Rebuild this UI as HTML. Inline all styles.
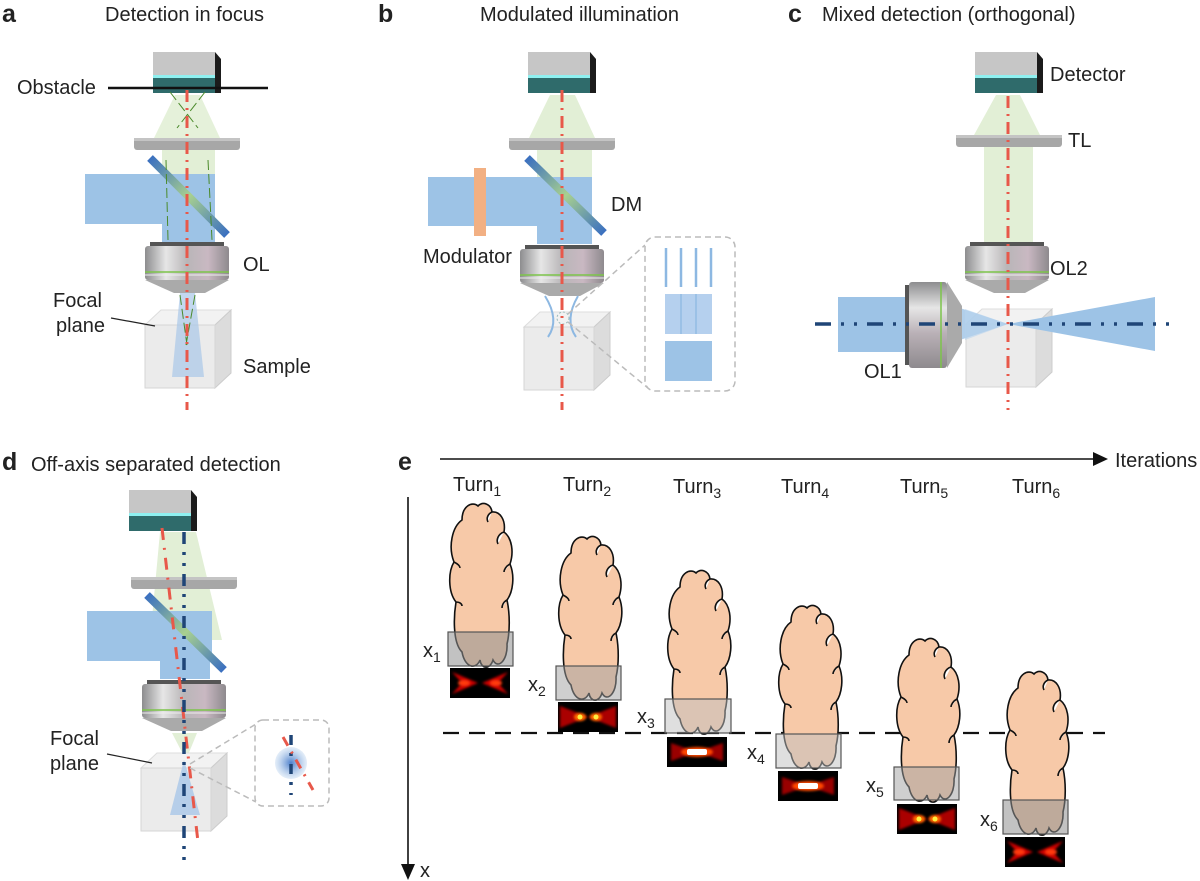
<!DOCTYPE html>
<html><head><meta charset="utf-8"><style>
html,body{margin:0;padding:0;background:#fff;}
svg{display:block;}
text{font-family:"Liberation Sans",Arial,sans-serif;fill:#222;}
</style></head><body>
<svg width="1200" height="881" viewBox="0 0 1200 881" xmlns="http://www.w3.org/2000/svg">
<defs>
 <linearGradient id="obj" x1="0" x2="1" y1="0" y2="0">
  <stop offset="0" stop-color="#8d8d8f"/><stop offset="0.25" stop-color="#e6e6e6"/><stop offset="0.5" stop-color="#b9b6b8"/><stop offset="0.75" stop-color="#c9b8c2"/><stop offset="1" stop-color="#8e8a8e"/>
 </linearGradient>
 <linearGradient id="objv" x1="0" x2="0" y1="0" y2="1">
  <stop offset="0" stop-color="#8d8d8f"/><stop offset="0.3" stop-color="#e6e6e6"/><stop offset="0.6" stop-color="#b9b0b6"/><stop offset="1" stop-color="#8e8a8e"/>
 </linearGradient>
 <linearGradient id="dm" x1="0" x2="1" y1="0" y2="1">
  <stop offset="0" stop-color="#3a6fc0"/><stop offset="0.5" stop-color="#a8d08f"/><stop offset="1" stop-color="#3a6fc0"/>
 </linearGradient>
 <filter id="bl1" x="-50%" y="-50%" width="200%" height="200%"><feGaussianBlur stdDeviation="1.2"/></filter>
 <radialGradient id="spot"><stop offset="0" stop-color="#1f5fbf"/><stop offset="1" stop-color="#a9c8ea" stop-opacity="0.4"/></radialGradient>

 <g id="det">
  <rect x="-34" y="0" width="62" height="23" fill="#c6c6c6"/>
  <rect x="-34" y="23" width="62" height="3" fill="#8ff0f0"/>
  <rect x="-34" y="26" width="62" height="15" fill="#2f6b6b"/>
  <polygon points="28,0 34,7 34,41 28,41" fill="#1b1b1b"/>
 </g>
 <g id="tl">
  <rect x="-53" y="0" width="106" height="12" rx="3" fill="#a7a7a7"/>
  <rect x="-53" y="0" width="106" height="3" fill="#c4c4c4"/>
 </g>
 <g id="obj1">
  <rect x="-37" y="0" width="74" height="7" fill="#555"/>
  <rect x="-42" y="4" width="84" height="34" rx="3" fill="url(#obj)"/>
  <line x1="-42" y1="30" x2="42" y2="30" stroke="#7cc44a" stroke-width="1.5"/>
  <line x1="-42" y1="33" x2="42" y2="33" stroke="#eee" stroke-width="1"/>
  <polygon points="-42,38 42,38 18,51 -13,51" fill="#aaa"/>
 </g>
 <g id="cube">
  <polygon points="0,15 16,0 86,0 70,15" fill="#f2f2f2" stroke="#ddd"/>
  <polygon points="70,15 86,0 86,63 70,78" fill="#dcdcdc" stroke="#ccc"/>
  <rect x="0" y="15" width="70" height="63" fill="#ebebeb" stroke="#d6d6d6"/>
 </g>
 <path id="brain" d="M14,150 C4,140 6,112 8,100 C0,90 0,70 6,60 C0,45 4,25 14,18 C14,4 24,-1 30,4 C35,-1 43,2 44,10 C52,9 58,18 56,30 C64,36 66,50 62,62 C67,74 65,90 59,98 C62,112 62,130 59,142 C60,158 50,168 45,158 C42,168 33,167 32,158 C28,168 17,166 14,150 Z M44,10 C40,12 38,16 40,20 M56,30 C50,32 48,38 50,42 M6,60 C10,62 12,64 12,66 M62,62 C58,64 56,68 56,70 M8,100 C12,100 14,102 14,104 M59,98 C55,100 54,104 54,106" fill="#f7c9a8" stroke="#111" stroke-width="1.6"/>
 <g id="psfA">
  <rect width="60" height="30" fill="#000"/>
  <polygon points="2,4 28,15 2,26 12,15" fill="#c00" filter="url(#bl1)"/>
  <polygon points="58,4 32,15 58,26 48,15" fill="#c00" filter="url(#bl1)"/>
  <ellipse cx="14" cy="15" rx="6" ry="3" fill="#ff3a10" filter="url(#bl1)"/>
  <ellipse cx="46" cy="15" rx="6" ry="3" fill="#ff3a10" filter="url(#bl1)"/>
 </g>
 <g id="psfB">
  <rect width="60" height="30" fill="#000"/>
  <polygon points="2,4 30,15 2,26" fill="#a00" filter="url(#bl1)"/>
  <polygon points="58,4 30,15 58,26" fill="#a00" filter="url(#bl1)"/>
  <ellipse cx="22" cy="15" rx="6" ry="4" fill="#ff6a00" filter="url(#bl1)"/>
  <ellipse cx="38" cy="15" rx="6" ry="4" fill="#ff6a00" filter="url(#bl1)"/>
  <circle cx="22" cy="15" r="2.5" fill="#ffee40"/>
  <circle cx="38" cy="15" r="2.5" fill="#ffee40"/>
 </g>
 <g id="psfC">
  <rect width="60" height="30" fill="#000"/>
  <polygon points="4,6 30,15 4,24" fill="#900" filter="url(#bl1)"/>
  <polygon points="56,6 30,15 56,24" fill="#900" filter="url(#bl1)"/>
  <ellipse cx="30" cy="15" rx="16" ry="5" fill="#ff4a00" filter="url(#bl1)"/>
  <rect x="20" y="12" width="20" height="6" rx="2" fill="#fff"/>
 </g>
</defs>

<!-- ===== Panel a ===== -->
<text x="2" y="22" font-size="25" font-weight="bold">a</text>
<text x="105" y="21" font-size="20">Detection in focus</text>
<g>
 <polygon points="175,95 200,95 220,138 154,138" fill="#e2efd6" opacity="0.9"/>
 <rect x="162" y="150" width="53" height="90" fill="#e2efd6"/>
 <rect x="85" y="174" width="130" height="50" fill="#9dc3e6"/>
 <rect x="162" y="224" width="53" height="20" fill="#9dc3e6"/>
 <use href="#det" x="187" y="52"/>
 <line x1="108" y1="88" x2="268" y2="88" stroke="#111" stroke-width="2.5"/>
 <use href="#tl" x="187" y="138"/>
 <line x1="150" y1="158" x2="227" y2="235" stroke="url(#dm)" stroke-width="8"/>
 <use href="#obj1" x="187" y="242"/>
 <use href="#cube" x="145" y="310"/>
 <polygon points="180,293 195,293 204,377 172,377" fill="#a9c7e8" opacity="0.7"/>
 <g stroke="#4a8a2a" stroke-width="1" fill="none" stroke-dasharray="10,4">
  <path d="M170,92 L198,128 M205,92 L177,128 M166,160 L168,240 M208,160 L212,240 M180,295 L187,345 M195,295 L186,345"/>
 </g>
 <line x1="187" y1="90" x2="187" y2="410" stroke="#e8584a" stroke-width="3" stroke-dasharray="12,6,2,6"/>
 <text x="243" y="271" font-size="20">OL</text>
 <text x="17" y="94" font-size="20">Obstacle</text>
 <text x="53" y="307" font-size="20">Focal</text>
 <text x="56" y="332" font-size="20">plane</text>
 <line x1="111" y1="318" x2="155" y2="326" stroke="#222" stroke-width="1.2"/>
 <text x="243" y="373" font-size="20">Sample</text>
</g>

<!-- ===== Panel b ===== -->
<text x="378" y="22" font-size="25" font-weight="bold">b</text>
<text x="480" y="21" font-size="20">Modulated illumination</text>
<g>
 <polygon points="550,95 575,95 595,138 529,138" fill="#e2efd6"/>
 <rect x="537" y="150" width="55" height="90" fill="#e2efd6"/>
 <rect x="428" y="177" width="164" height="49" fill="#9dc3e6"/>
 <rect x="537" y="226" width="55" height="18" fill="#9dc3e6"/>
 <rect x="474" y="168" width="12" height="68" fill="#f2b083"/>
 <use href="#det" x="562" y="52"/>
 <use href="#tl" x="562" y="138"/>
 <line x1="527" y1="158" x2="604" y2="233" stroke="url(#dm)" stroke-width="8"/>
 <use href="#obj1" x="562" y="245"/>
 <use href="#cube" x="524" y="312"/>
 <path d="M545,296 Q560,320 548,337 M578,296 Q564,320 576,337" stroke="#8db8e2" stroke-width="2" fill="none"/>
 <circle cx="563" cy="318" r="6" fill="none" stroke="#9bb" stroke-width="1" stroke-dasharray="2,2"/>
 <line x1="562" y1="90" x2="562" y2="410" stroke="#e8584a" stroke-width="3" stroke-dasharray="12,6,2,6"/>
 <line x1="568" y1="314" x2="645" y2="245" stroke="#bbb" stroke-width="1.5" stroke-dasharray="6,4"/>
 <line x1="568" y1="322" x2="648" y2="388" stroke="#bbb" stroke-width="1.5" stroke-dasharray="6,4"/>
 <rect x="645" y="237" width="90" height="154" rx="10" fill="#fff" stroke="#bbb" stroke-width="1.5" stroke-dasharray="6,4"/>
 <g stroke="#8db8e2" stroke-width="2.5"><line x1="666" y1="248" x2="666" y2="287"/><line x1="681" y1="248" x2="681" y2="287"/><line x1="696" y1="248" x2="696" y2="287"/><line x1="711" y1="248" x2="711" y2="287"/></g>
 <rect x="665" y="294" width="47" height="40" fill="#b5d0ee"/>
 <g stroke="#9bc1e6" stroke-width="2"><line x1="681" y1="294" x2="681" y2="334"/><line x1="696" y1="294" x2="696" y2="334"/></g>
 <rect x="665" y="341" width="47" height="40" fill="#9dc3e6"/>
 <text x="611" y="211" font-size="20">DM</text>
 <text x="423" y="263" font-size="20">Modulator</text>
</g>

<!-- ===== Panel c ===== -->
<text x="788" y="22" font-size="25" font-weight="bold">c</text>
<text x="822" y="21" font-size="20">Mixed detection (orthogonal)</text>
<g>
 <polygon points="996,95 1020,95 1040,135 974,135" fill="#e2efd6"/>
 <rect x="984" y="147" width="49" height="97" fill="#e2efd6"/>
 <use href="#det" x="1009" y="52"/>
 <use href="#tl" x="1009" y="135"/>
 <use href="#obj1" x="1007" y="242"/>
 <use href="#cube" x="966" y="309"/>
 <rect x="838" y="297" width="70" height="55" fill="#9dc3e6"/>
 <polygon points="960,308 1008,324 960,340" fill="#9dc3e6" opacity="0.8"/>
 <polygon points="1008,324 1155,297 1155,351" fill="#9dc3e6"/>
 <polygon points="965,309 1008,324 965,340" fill="#b8d3ee" opacity="0.6"/>
 <g>
  <rect x="905" y="285" width="6" height="80" fill="#555"/>
  <rect x="909" y="282" width="38" height="86" rx="3" fill="url(#objv)"/>
  <line x1="941" y1="282" x2="941" y2="368" stroke="#7cc44a" stroke-width="1.5"/>
  <polygon points="947,282 947,368 962,343 962,306" fill="#aaa"/>
 </g>
 <line x1="1008" y1="96" x2="1008" y2="410" stroke="#e8584a" stroke-width="3" stroke-dasharray="12,6,2,6"/>
 <line x1="815" y1="324" x2="1170" y2="324" stroke="#1f4577" stroke-width="3.5" stroke-dasharray="16,10,3,10,3,10"/>
 <text x="1050" y="81" font-size="20">Detector</text>
 <text x="1068" y="147" font-size="20">TL</text>
 <text x="1050" y="275" font-size="20">OL2</text>
 <text x="864" y="378" font-size="20">OL1</text>
</g>

<!-- ===== Panel d ===== -->
<text x="2" y="470" font-size="25" font-weight="bold">d</text>
<text x="31" y="471" font-size="20">Off-axis separated detection</text>
<g>
 <polygon points="160,532 196,532 222,640 150,640" fill="#e2efd6"/>
 <rect x="87" y="611" width="125" height="50" fill="#9dc3e6"/>
 <rect x="160" y="661" width="50" height="18" fill="#9dc3e6"/>
 <use href="#det" x="163" y="490"/>
 <use href="#tl" x="184" y="577"/>
 <line x1="147" y1="595" x2="224" y2="670" stroke="url(#dm)" stroke-width="8"/>
 <use href="#obj1" x="184" y="680"/>
 <polygon points="172,733 197,733 186,760" fill="#e2efd6"/>
 <use href="#cube" x="141" y="753"/>
 <polygon points="184,760 170,815 200,815" fill="#a9c7e8" opacity="0.8"/>
 <line x1="162" y1="528" x2="198" y2="842" stroke="#e8584a" stroke-width="3" stroke-dasharray="12,8,2,8"/>
 <line x1="184" y1="532" x2="184" y2="868" stroke="#1f4577" stroke-width="3.5" stroke-dasharray="12,8,3,8,3,8"/>
 <line x1="190" y1="764" x2="256" y2="724" stroke="#bbb" stroke-width="1.5" stroke-dasharray="6,4"/>
 <line x1="190" y1="768" x2="256" y2="802" stroke="#bbb" stroke-width="1.5" stroke-dasharray="6,4"/>
 <rect x="255" y="720" width="74" height="86" rx="8" fill="#fff" stroke="#bbb" stroke-width="1.5" stroke-dasharray="6,4"/>
 <circle cx="291" cy="763" r="16" fill="url(#spot)" opacity="0.8"/>
 <line x1="291" y1="735" x2="291" y2="795" stroke="#1f4577" stroke-width="3.5" stroke-dasharray="10,8,3,8"/>
 <line x1="283" y1="737" x2="313" y2="790" stroke="#e8584a" stroke-width="3" stroke-dasharray="10,7,2,7"/>
 <text x="50" y="745" font-size="20">Focal</text>
 <text x="50" y="770" font-size="20">plane</text>
 <line x1="107" y1="754" x2="152" y2="763" stroke="#222" stroke-width="1.2"/>
</g>

<!-- ===== Panel e ===== -->
<text x="398" y="470" font-size="25" font-weight="bold">e</text>
<line x1="440" y1="459" x2="1095" y2="459" stroke="#111" stroke-width="1.6"/>
<polygon points="1108,459 1093,452 1093,466" fill="#111"/>
<text x="1115" y="467" font-size="20">Iterations</text>
<line x1="408" y1="497" x2="408" y2="865" stroke="#111" stroke-width="1.6"/>
<polygon points="408,880 401,864 415,864" fill="#111"/>
<text x="420" y="877" font-size="20">x</text>

<g font-size="20">
 <text x="453" y="491">Turn<tspan font-size="14" dy="5">1</tspan></text>
 <text x="563" y="491">Turn<tspan font-size="14" dy="5">2</tspan></text>
 <text x="673" y="493">Turn<tspan font-size="14" dy="5">3</tspan></text>
 <text x="781" y="493">Turn<tspan font-size="14" dy="5">4</tspan></text>
 <text x="900" y="493">Turn<tspan font-size="14" dy="5">5</tspan></text>
 <text x="1012" y="493">Turn<tspan font-size="14" dy="5">6</tspan></text>
</g>

<line x1="443" y1="733" x2="1105" y2="733" stroke="#111" stroke-width="2.2" stroke-dasharray="16,10"/>

<use href="#brain" x="448" y="502"/>
<rect x="448" y="632" width="65" height="34" fill="#8f8f8f" fill-opacity="0.55" stroke="#555" stroke-width="1.2"/>
<use href="#psfA" x="450" y="668"/>

<use href="#brain" x="557" y="535"/>
<rect x="556" y="666" width="65" height="34" fill="#a0a0a0" fill-opacity="0.5" stroke="#555" stroke-width="1.2"/>
<use href="#psfB" x="558" y="702"/>

<use href="#brain" x="666" y="569"/>
<rect x="665" y="699" width="66" height="34" fill="#c0c0c0" fill-opacity="0.5" stroke="#555" stroke-width="1.2"/>
<use href="#psfC" x="667" y="737"/>

<use href="#brain" x="777" y="604"/>
<rect x="776" y="734" width="65" height="34" fill="#c0c0c0" fill-opacity="0.5" stroke="#555" stroke-width="1.2"/>
<use href="#psfC" x="778" y="771"/>

<use href="#brain" x="895" y="637"/>
<rect x="894" y="767" width="65" height="33" fill="#a0a0a0" fill-opacity="0.5" stroke="#555" stroke-width="1.2"/>
<use href="#psfB" x="897" y="804"/>

<use href="#brain" x="1004" y="670"/>
<rect x="1003" y="800" width="65" height="34" fill="#8f8f8f" fill-opacity="0.55" stroke="#555" stroke-width="1.2"/>
<use href="#psfA" x="1005" y="837"/>

<g font-size="20">
 <text x="423" y="657">x<tspan font-size="14" dy="5">1</tspan></text>
 <text x="528" y="691">x<tspan font-size="14" dy="5">2</tspan></text>
 <text x="637" y="723">x<tspan font-size="14" dy="5">3</tspan></text>
 <text x="747" y="759">x<tspan font-size="14" dy="5">4</tspan></text>
 <text x="866" y="792">x<tspan font-size="14" dy="5">5</tspan></text>
 <text x="980" y="826">x<tspan font-size="14" dy="5">6</tspan></text>
</g>
</svg>
</body></html>
